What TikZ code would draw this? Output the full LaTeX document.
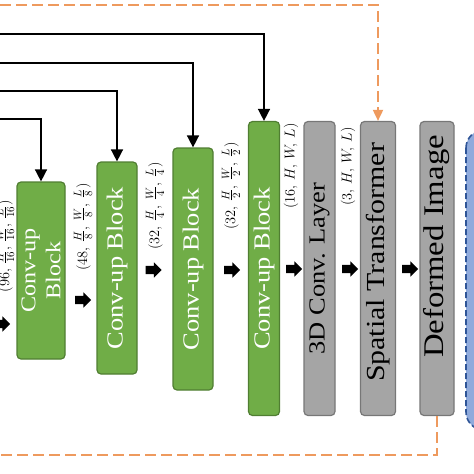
\documentclass[tikz,border=0pt]{standalone}
\usepackage{fontspec}
\setmainfont{Liberation Serif}[FakeStretch=1.15]
\usepackage{graphicx}
\usetikzlibrary{arrows.meta,shapes.arrows}
\definecolor{upgr}{HTML}{70AD47}
\definecolor{upbd}{HTML}{507E32}
\definecolor{lygr}{HTML}{A5A5A5}
\definecolor{lybd}{HTML}{777777}
\definecolor{skipor}{HTML}{EE9A5E}
\definecolor{regbl}{HTML}{8FAADC}
\definecolor{regbd}{HTML}{2F5597}
\newcommand{\fs}[1]{\fontsize{#1}{#1}\selectfont}
\tikzset{
 blk/.style={rounded corners=4pt, line width=1.2pt, inner sep=0pt, font=\fs{23}},
 upblk/.style={blk, draw=upbd, fill=upgr, text=white},
 lyblk/.style={blk, draw=lybd, fill=lygr, text=black},
 dim/.style={rotate=90, anchor=east, inner sep=0pt, font=\fs{15}},
 fat/.style={single arrow, fill=black, inner xsep=0pt, inner ysep=4pt, minimum height=16pt, single arrow head extend=3.5pt},
 skipln/.style={line width=1.5pt, -{Triangle[width=12pt,length=12pt]}},
 warp/.style={draw=skipor, line width=1.8pt, dash pattern=on 11pt off 5pt},
}
\begin{document}
\begin{tikzpicture}[x=1pt,y=-1pt]
\useasboundingbox (0,0) rectangle (474,474);
\draw [draw=regbd, fill=regbl, line width=1.6pt, dash pattern=on 6pt off 3pt, rounded corners=18pt] (466,130) rectangle (540,430);
\node [upblk, font=\fs{21}, minimum width=48pt, minimum height=177pt] (up1) at (41,270.5) {\rotatebox{90}{\shortstack{Conv-up\\[3pt]Block}}};
\node [upblk, minimum width=40pt, minimum height=212pt] (up2) at (117,268) {\rotatebox{90}{Conv-up Block}};
\node [upblk, minimum width=40pt, minimum height=242pt] (up3) at (193,269) {\rotatebox{90}{Conv-up Block}};
\node [upblk, minimum width=31pt, minimum height=294pt] (up4) at (264,268.5) {\rotatebox{90}{Conv-up Block}};
\node [lyblk, minimum width=31pt, minimum height=294pt] (cnv) at (319.5,268.5) {\rotatebox{90}{3D Conv. Layer}};
\node [lyblk, font=\fs{26}, minimum width=35pt, minimum height=294pt] (stn) at (378,268.5) {\rotatebox{90}{\hspace*{12pt}Spatial Transformer}};
\node [lyblk, font=\fs{28.5}, minimum width=34pt, minimum height=294pt] (dfm) at (437,268.5) {\rotatebox{90}{\hspace*{44pt}Deformed Image}};
\coordinate (s1) at (0,119); \coordinate (s2) at (0,91);
\coordinate (s3) at (0,63); \coordinate (s4) at (0,34);
\draw [skipln] (s1) -| (up1.north); \draw [skipln] (s2) -| (up2.north);
\draw [skipln] (s3) -| (up3.north); \draw [skipln] (s4) -| (up4.north);
\coordinate (w0) at (0,5); \coordinate (w1) at (0,455);
\draw [warp, -{Triangle[width=10pt,length=11pt]}] (w0) -| (stn.north);
\draw [warp] (dfm.south) |- (w1);
\node [fat] (f0) at (0,324) {}; \node [fat] (f12) at (81,300) {};
\node [fat] (f23) at (151.5,270) {}; \node [fat] (f34) at (230,270) {};
\node [fat] (f45) at (292,269) {}; \node [fat] (f56) at (348,269) {};
\node [fat] (f67) at (408,269) {}; \node [fat] (f7r) at (480,268) {};
\node [dim] (d0) at (5,200) {$(96,\,\frac{H}{16},\,\frac{W}{16},\,\frac{L}{16})$};
\node [dim] (d1) at (83,183) {$(48,\,\frac{H}{8},\,\frac{W}{8},\,\frac{L}{8})$};
\node [dim] (d2) at (155,162) {$(32,\,\frac{H}{4},\,\frac{W}{4},\,\frac{L}{4})$};
\node [dim] (d3) at (231,142) {$(32,\,\frac{H}{2},\,\frac{W}{2},\,\frac{L}{2})$};
\node [dim] (d4) at (291,123) {$(16,\,H,\,W,\,L)$};
\node [dim] (d5) at (348,127) {$(3,\,H,\,W,\,L)$};
\end{tikzpicture}
\end{document}
